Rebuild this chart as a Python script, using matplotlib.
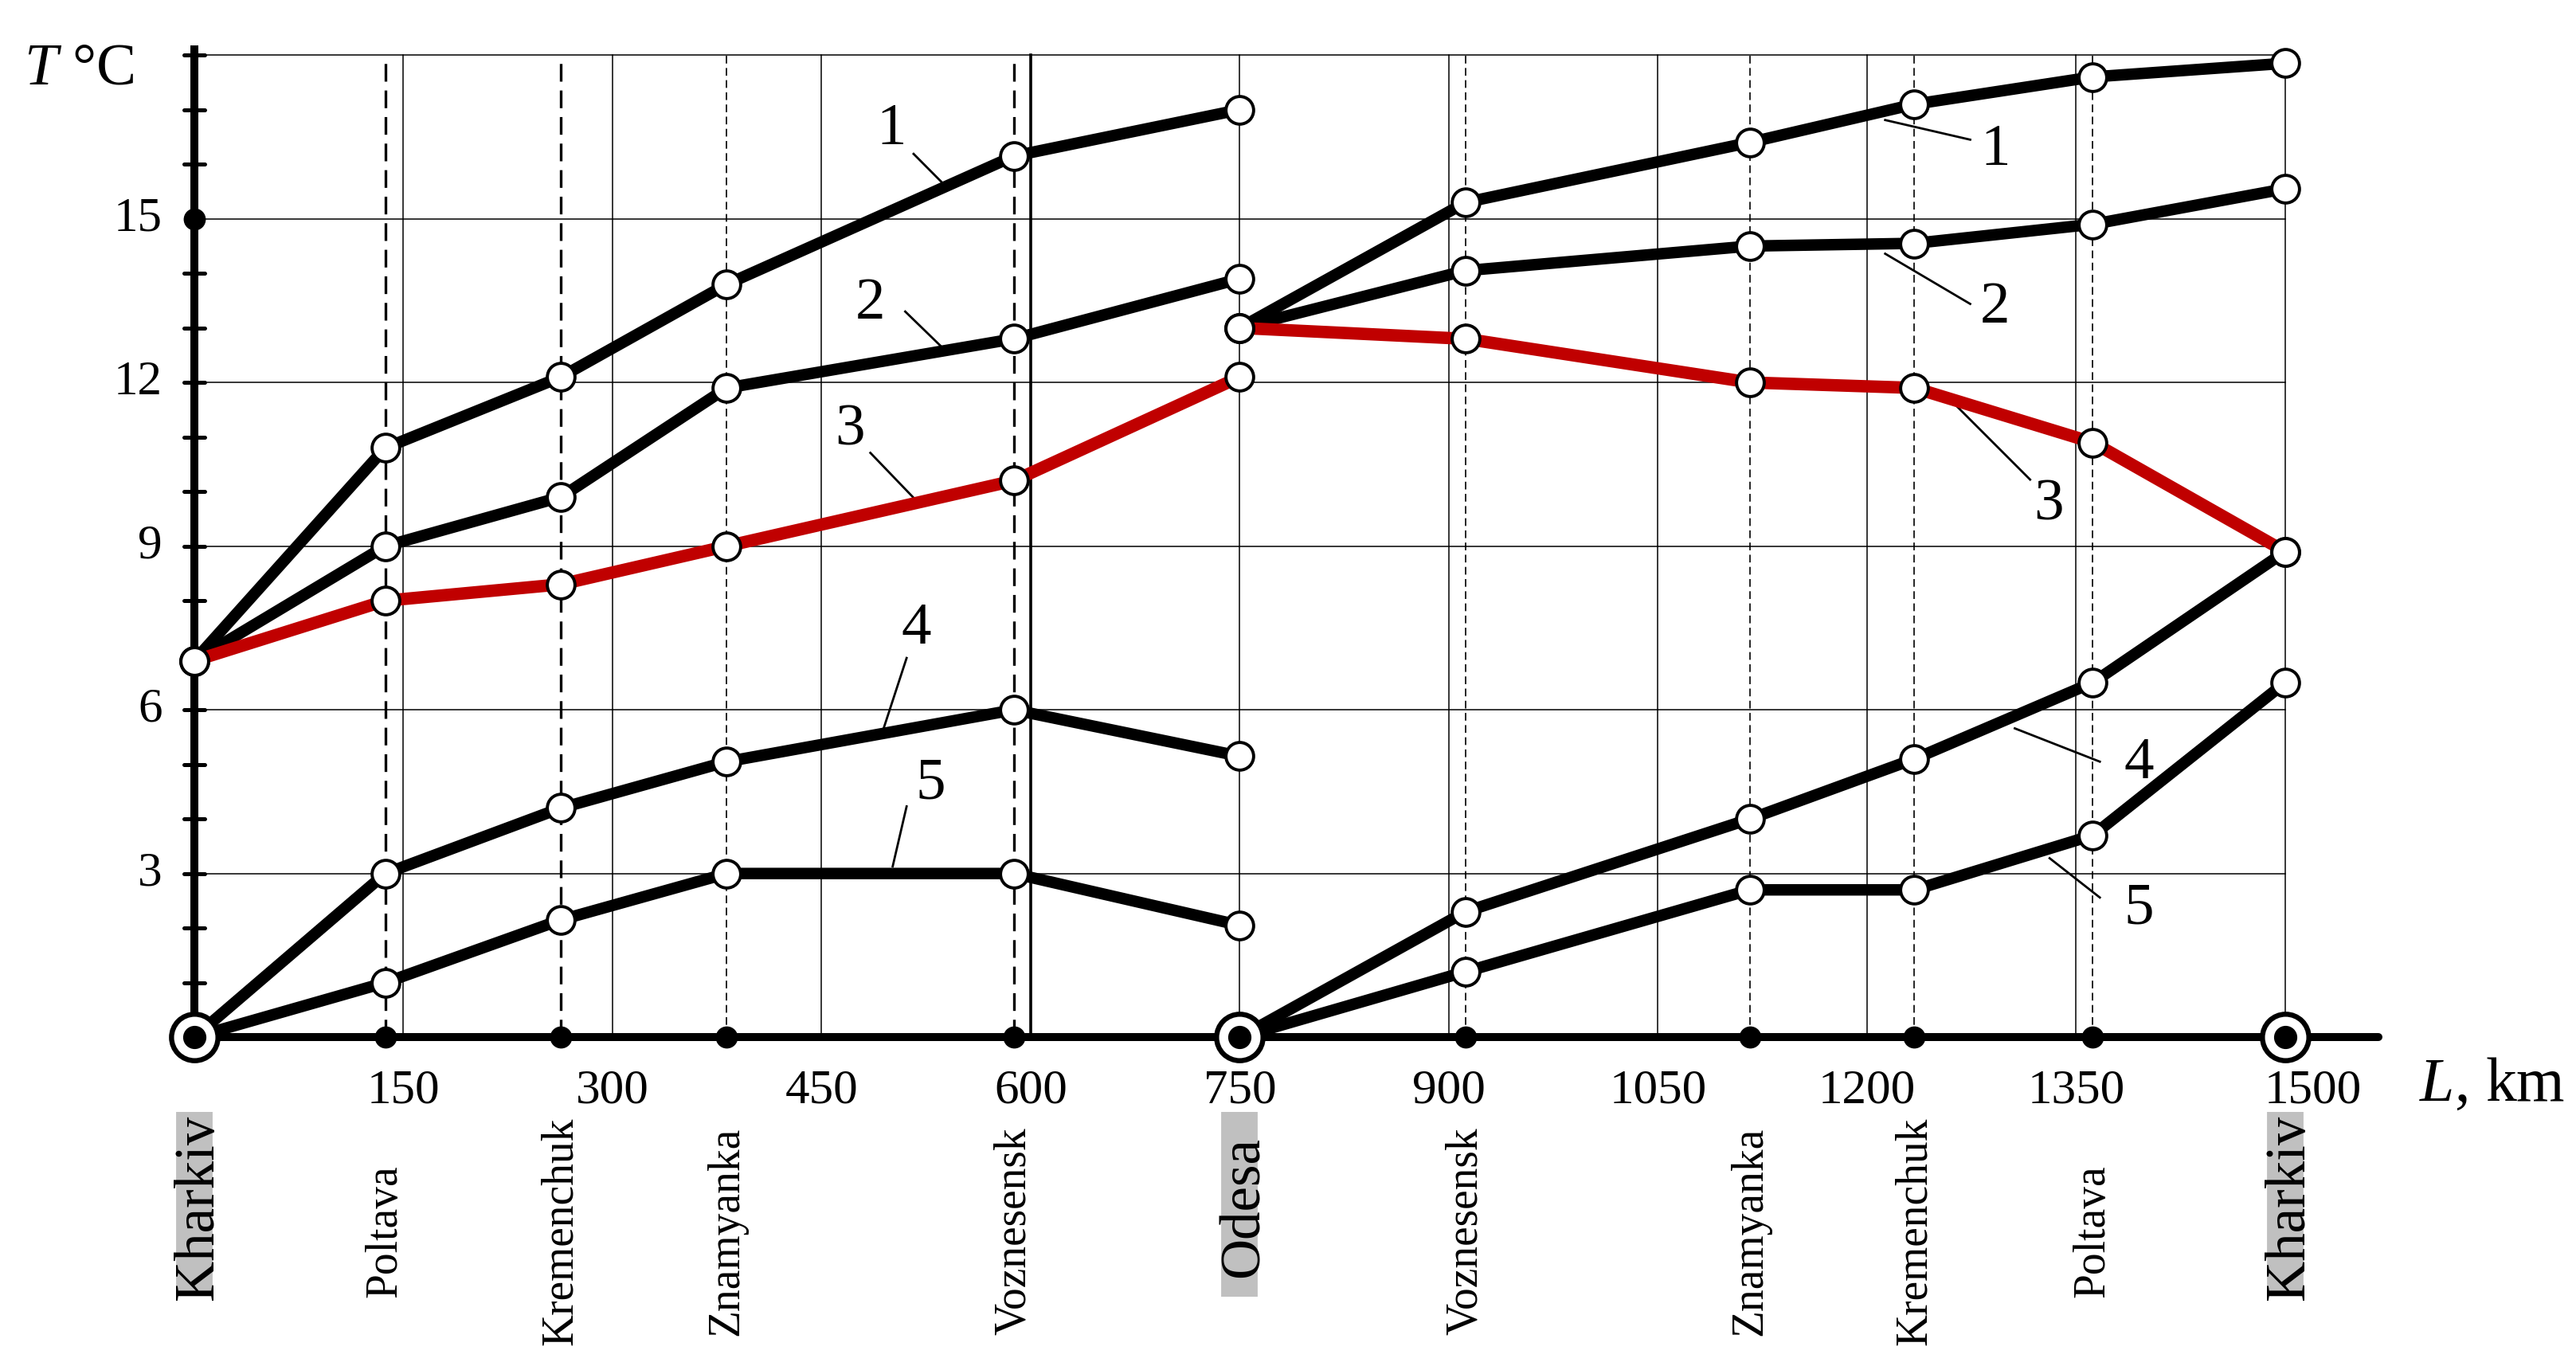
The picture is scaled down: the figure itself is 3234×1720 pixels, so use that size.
import matplotlib
matplotlib.use('Agg')
import matplotlib.pyplot as plt

plt.rcParams['font.family'] = ['Liberation Serif', 'DejaVu Serif']
plt.rcParams['mathtext.fontset'] = 'custom'
plt.rcParams['mathtext.rm'] = 'Liberation Serif'
plt.rcParams['mathtext.it'] = 'Liberation Serif:italic'
plt.rcParams['lines.scale_dashes'] = False

# stations, km from Kharkiv
km_there = [0, 137, 263, 382, 588, 750]
km_back = [750, 912, 1116, 1234, 1362, 1500]
city_there = ['Kharkiv', 'Poltava', 'Kremenchuk', 'Znamyanka', 'Voznesensk', 'Odesa']
city_back = ['Odesa', 'Voznesensk', 'Znamyanka', 'Kremenchuk', 'Poltava', 'Kharkiv']
terminals = ['Kharkiv', 'Odesa']

# temperature, deg C (curves 1..5), Kharkiv -> Odesa
t1_there = [6.9, 10.8, 12.1, 13.8, 16.15, 17.0]
t2_there = [6.9, 9.0, 9.9, 11.9, 12.8, 13.9]
t3_there = [6.9, 8.0, 8.3, 9.0, 10.2, 12.1]
t4_there = [0, 3.0, 4.2, 5.05, 6.0, 5.15]
t5_there = [0, 1.0, 2.15, 3.0, 3.0, 2.05]

# Odesa -> Kharkiv
t1_back = [13.0, 15.3, 16.4, 17.1, 17.6, 17.85]
t2_back = [13.0, 14.05, 14.5, 14.55, 14.9, 15.55]
t3_back = [13.0, 12.8, 12.0, 11.9, 10.9, 8.9]
t4_back = [0, 2.3, 4.0, 5.1, 6.5, 8.9]
t5_back = [0, 1.2, 2.7, 2.7, 3.7, 6.5]

x_ticks = [150, 300, 450, 600, 750, 900, 1050, 1200, 1350, 1500]
y_ticks = [3, 6, 9, 12, 15]

red = '#c00000'

fig = plt.figure(figsize=(16.17, 8.6), dpi=200)
ax = fig.add_axes([0, 0, 1, 1])
ax.set_xlim(-139.4, 1708.6)
ax.set_ylim(-6.10, 19.01)
ax.axis('off')

# grid
for y in range(3, 19, 3):
    ax.plot([0, 1500], [y, y], color='k', lw=0.55, zorder=1)
for x in x_ticks:
    ax.plot([x, x], [0, 18], color='k', lw=1.3 if x == 600 else 0.55, zorder=1)

# station guide lines
for x, name in zip(km_there[1:-1], city_there[1:-1]):
    if name == 'Znamyanka':
        ax.plot([x, x], [0, 18], color='k', lw=0.6, dashes=(3.5, 2), zorder=1)
    else:
        ax.plot([x, x], [0, 18], color='k', lw=1.2, dashes=(8, 4), zorder=1)
for x in km_back[1:-1]:
    ax.plot([x, x], [0, 18], color='k', lw=0.6, dashes=(3.5, 2), zorder=1)

series = [
    (km_there, t1_there, 'k'), (km_there, t2_there, 'k'), (km_there, t3_there, red),
    (km_there, t4_there, 'k'), (km_there, t5_there, 'k'),
    (km_back, t1_back, 'k'), (km_back, t2_back, 'k'), (km_back, t3_back, red),
    (km_back, t4_back, 'k'), (km_back, t5_back, 'k'),
]
for xs, ys, c in series:
    ax.plot(xs, ys, color=c, lw=5.6 if c == red else 5.2,
            solid_capstyle='round', solid_joinstyle='round', zorder=3)
for xs, ys, c in series:
    px = [x for x, y in zip(xs, ys) if y > 0]
    py = [y for y in ys if y > 0]
    ax.plot(px, py, 'o', ms=12.5, mfc='white', mec='k', mew=1.4, zorder=5)

# axes
ax.plot([0, 0], [0, 18.1], color='k', lw=3.6, zorder=4)
ax.plot([0, 1567], [0, 0], color='k', lw=3.6, solid_capstyle='round', zorder=4)
for v in range(1, 19):
    if v != 15:
        ax.plot([-7.5, 7.5], [v, v], color='k', lw=1.8, solid_capstyle='round', zorder=4)
ax.plot([0], [15], 'o', ms=9, color='k', zorder=5)
for v in y_ticks:
    ax.text(-23, v, str(v), ha='right', va='center', fontsize=22)
for t in x_ticks:
    ax.text(t + (20 if t == 1500 else 0), -1.2, str(t), ha='center', va='baseline', fontsize=22)

ax.text(-122, 17.47, r'$T$ °C', ha='left', va='baseline', fontsize=27)
ax.text(1596, -1.16, r'$L$, km', ha='left', va='baseline', fontsize=28)

# station marks on the distance axis
mids = km_there[1:-1] + km_back[1:-1]
ax.plot(mids, [0] * len(mids), 'o', ms=9, color='k', zorder=6)
ends = [km_there[0], km_there[-1], km_back[-1]]
ax.plot(ends, [0] * 3, 'o', ms=21, mfc='white', mec='k', mew=2.3, zorder=6)
ax.plot(ends, [0] * 3, 'o', ms=9.5, color='k', zorder=7)

# station names
for x, name in list(zip(km_there, city_there)) + list(zip(km_back[1:], city_back[1:])):
    if name in terminals:
        ax.plot([x, x], [-1.37, -4.75], color='#c0c0c0', lw=16.5,
                solid_capstyle='butt', zorder=1)
        ax.text(x + 3, -3.12, name, rotation=90, ha='center', va='center',
                fontsize=25.5, zorder=2)
    else:
        ax.text(x, -3.56, name, rotation=90, ha='center', va='center', fontsize=20)

# curve numbers with leader lines
leaders = [
    ('1', (500, 16.63), (516, 16.19), (537, 15.65)),
    ('2', (485, 13.43), (510, 13.30), (537, 12.63)),
    ('3', (470, 11.12), (485, 10.71), (520, 9.78)),
    ('4', (518, 7.47), (511, 6.95), (494, 5.62)),
    ('5', (528, 4.64), (511, 4.23), (501, 3.13)),
    ('1', (1292, 16.24), (1274, 16.45), (1213, 16.81)),
    ('2', (1292, 13.35), (1274, 13.44), (1213, 14.36)),
    ('3', (1330, 9.75), (1317, 10.22), (1263, 11.60)),
    ('4', (1395, 5.00), (1367, 5.05), (1306, 5.66)),
    ('5', (1395, 2.34), (1367, 2.56), (1331, 3.28)),
]
for lab, txy, p0, p1 in leaders:
    ax.text(txy[0], txy[1], lab, ha='center', va='center', fontsize=27)
    ax.plot([p0[0], p1[0]], [p0[1], p1[1]], color='k', lw=1.0, zorder=2)

fig.savefig('out.png', dpi=200)
